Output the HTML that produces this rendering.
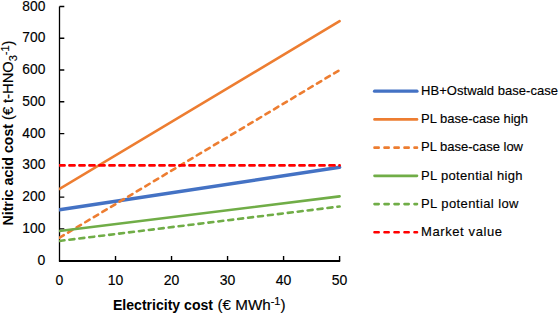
<!DOCTYPE html>
<html><head><meta charset="utf-8"><style>
html,body{margin:0;padding:0;background:#fff;width:560px;height:314px;overflow:hidden}
svg{display:block}
.t{font-family:"Liberation Sans",sans-serif;fill:#000;stroke:#000;stroke-width:0.15px}
</style></head><body>
<svg width="560" height="314" viewBox="0 0 560 314">
<defs><clipPath id="pc"><rect x="59" y="0" width="400" height="314"/></clipPath></defs>
<path d="M59.5 6.5 V260.7" fill="none" stroke="#000" stroke-width="1.3"/>
<path d="M58.9 260.9 H340.20000000000005" fill="none" stroke="#000" stroke-width="2.0"/>
<path d="M59.5 260.70h4.8 M59.5 228.92h4.8 M59.5 197.15h4.8 M59.5 165.38h4.8 M59.5 133.60h4.8 M59.5 101.82h4.8 M59.5 70.05h4.8 M59.5 38.27h4.8 M59.5 6.50h4.8 M115.52 260.7v-4.8 M171.54 260.7v-4.8 M227.56 260.7v-4.8 M283.58 260.7v-4.8 M339.60 260.7v-4.8" stroke="#000" stroke-width="1.4"/>
<text x="45.3" y="264.80" text-anchor="end" class="t" font-size="14">0</text>
<text x="45.3" y="233.02" text-anchor="end" class="t" font-size="14" textLength="23.0" lengthAdjust="spacingAndGlyphs">100</text>
<text x="45.3" y="201.25" text-anchor="end" class="t" font-size="14" textLength="23.0" lengthAdjust="spacingAndGlyphs">200</text>
<text x="45.3" y="169.47" text-anchor="end" class="t" font-size="14" textLength="23.0" lengthAdjust="spacingAndGlyphs">300</text>
<text x="45.3" y="137.70" text-anchor="end" class="t" font-size="14" textLength="23.0" lengthAdjust="spacingAndGlyphs">400</text>
<text x="45.3" y="105.92" text-anchor="end" class="t" font-size="14" textLength="23.0" lengthAdjust="spacingAndGlyphs">500</text>
<text x="45.3" y="74.15" text-anchor="end" class="t" font-size="14" textLength="23.0" lengthAdjust="spacingAndGlyphs">600</text>
<text x="45.3" y="42.37" text-anchor="end" class="t" font-size="14" textLength="23.0" lengthAdjust="spacingAndGlyphs">700</text>
<text x="45.3" y="10.60" text-anchor="end" class="t" font-size="14" textLength="23.0" lengthAdjust="spacingAndGlyphs">800</text>
<text x="59.50" y="285" text-anchor="middle" class="t" font-size="14">0</text>
<text x="115.52" y="285" text-anchor="middle" class="t" font-size="14">10</text>
<text x="171.54" y="285" text-anchor="middle" class="t" font-size="14">20</text>
<text x="227.56" y="285" text-anchor="middle" class="t" font-size="14">30</text>
<text x="283.58" y="285" text-anchor="middle" class="t" font-size="14">40</text>
<text x="339.60" y="285" text-anchor="middle" class="t" font-size="14">50</text>
<path d="M59.5 209.70 L339.6 167.28" stroke="#4472C4" stroke-width="3.5" stroke-linecap="round" fill="none" clip-path="url(#pc)"/>
<path d="M59.5 188.89 L339.6 21.12" stroke="#ED7D31" stroke-width="2.6" stroke-linecap="round" fill="none" clip-path="url(#pc)"/>
<path d="M59.5 237.66 L339.6 70.05" stroke="#ED7D31" stroke-width="2.6" stroke-linecap="round" stroke-dasharray="5 5" stroke-dashoffset="0" fill="none" clip-path="url(#pc)"/>
<path d="M59.5 230.99 L339.6 196.36" stroke="#70AD47" stroke-width="2.6" stroke-linecap="round" fill="none" clip-path="url(#pc)"/>
<path d="M59.5 240.94 L339.6 206.52" stroke="#70AD47" stroke-width="2.6" stroke-linecap="round" stroke-dasharray="5 5" stroke-dashoffset="0" fill="none" clip-path="url(#pc)"/>
<path d="M59.5 165.38 L339.6 165.38" stroke="#FF0000" stroke-width="2.8" stroke-linecap="round" stroke-dasharray="5 5" stroke-dashoffset="0" fill="none" clip-path="url(#pc)"/>
<path d="M374.5 91.20 H417" stroke="#4472C4" stroke-width="3.2" stroke-linecap="round" fill="none"/>
<text x="421" y="95.00" class="t" font-size="13" textLength="137" lengthAdjust="spacing">HB+Ostwald base-case</text>
<path d="M374.5 119.42 H417" stroke="#ED7D31" stroke-width="2.6" stroke-linecap="round" fill="none"/>
<text x="421" y="123.22" class="t" font-size="13" textLength="107" lengthAdjust="spacing">PL base-case high</text>
<path d="M374.5 147.64 H417" stroke="#ED7D31" stroke-width="2.6" stroke-linecap="round" stroke-dasharray="4.2 5.8" fill="none"/>
<text x="421" y="151.44" class="t" font-size="13" textLength="102" lengthAdjust="spacing">PL base-case low</text>
<path d="M374.5 175.86 H417" stroke="#70AD47" stroke-width="2.6" stroke-linecap="round" fill="none"/>
<text x="421" y="179.66" class="t" font-size="13" textLength="101.5" lengthAdjust="spacing">PL potential high</text>
<path d="M374.5 204.08 H417" stroke="#70AD47" stroke-width="2.6" stroke-linecap="round" stroke-dasharray="4.2 5.8" fill="none"/>
<text x="421" y="207.88" class="t" font-size="13" textLength="97.5" lengthAdjust="spacing">PL potential low</text>
<path d="M374.5 232.30 H417" stroke="#FF0000" stroke-width="2.6" stroke-linecap="round" stroke-dasharray="4.2 5.8" fill="none"/>
<text x="421" y="236.10" class="t" font-size="13" textLength="81" lengthAdjust="spacing">Market value</text>
<text x="113" y="309.6" class="t" font-weight="bold" style="stroke-width:0px" font-size="14" textLength="100" lengthAdjust="spacingAndGlyphs">Electricity cost</text>
<text x="217.5" y="309.6" class="t" font-size="14" textLength="68" lengthAdjust="spacingAndGlyphs">(€ MWh<tspan dy="-4.5" font-size="10">-1</tspan><tspan dy="4.5">)</tspan></text>
<g transform="translate(12.9 0) rotate(-90)">
<text x="-225.5" y="0" class="t" font-weight="bold" style="stroke-width:0px" font-size="14" textLength="101.5" lengthAdjust="spacingAndGlyphs">Nitric acid cost</text>
<text x="-120" y="0" class="t" font-size="14" textLength="79.5" lengthAdjust="spacingAndGlyphs">(€ t-HNO<tspan dy="4.5" font-size="10.5">3</tspan><tspan dy="-8.5" font-size="10.5">-1</tspan><tspan dy="4">)</tspan></text>
</g>
</svg>
</body></html>
